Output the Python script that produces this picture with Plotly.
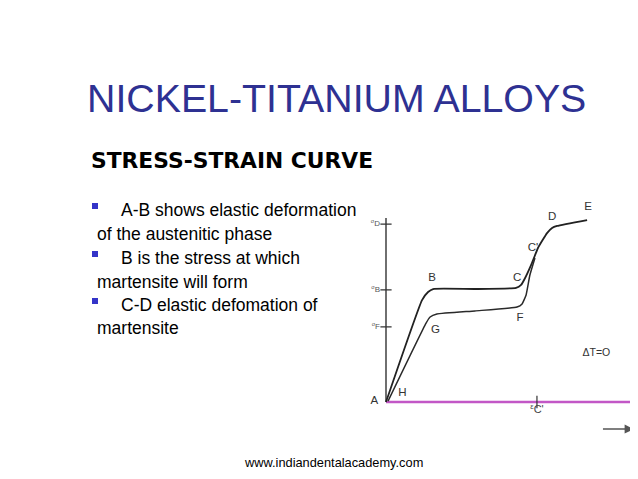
import plotly.graph_objects as go

# the page puts the figure 8px in from the top-left corner
OFF = 8
W, H = 638 - OFF, 479 - OFF

# slide text
title = "NICKEL-TITANIUM ALLOYS"
subtitle = "STRESS-STRAIN CURVE"
bullet_lines = [
    ("A-B shows elastic deformation", True),
    ("of the austenitic phase", False),
    ("B is the stress at which", True),
    ("martensite will form", False),
    ("C-D elastic defomation of", True),
    ("martensite", False),
]
footer = "www.indiandentalacademy.com"

# stress-strain curve (strain, stress in arbitrary units 0-100)
loading_strain = [0, 14.3, 16.7, 18.7, 35.3, 51.6, 53.6, 55.2, 57.9, 60.3, 63.9, 65.9, 67.9, 79.8]
loading_stress = [0, 55.4, 59.8, 61.4, 61.4, 62.0, 63.6, 67.4, 75.5, 83.7, 91.8, 94.6, 95.7, 98.9]
unloading_strain = [59.1, 57.1, 55.6, 54.0, 52.0, 35.3, 20.2, 17.5, 15.9, 0.8]
unloading_stress = [78.3, 69.0, 58.2, 53.3, 51.6, 49.5, 47.8, 46.2, 42.9, 0.5]

point_names = ["A", "H", "B", "C", "C'", "D", "E", "G", "F"]
point_x = [-4.6, 6.5, 18.3, 52.0, 58.3, 65.9, 80.2, 19.6, 53.2]
point_y = [0.5, 4.9, 67.4, 67.4, 83.7, 100.5, 106.0, 39.1, 45.7]

ytick_vals = [96.7, 60.9, 40.8]
ytick_text = ["<sup>σ</sup>D", "<sup>σ</sup>B", "<sup>σ</sup>F"]
xtick_vals = [59.9]
xtick_text = ["<sup>ε</sup>C'"]

axis_top = 100
axis_right = 100


def px(x):
    return (x - OFF) / W


def py(y):
    return 1 - (y - OFF) / H


fig = go.Figure()

# axes drawn as lines
fig.add_trace(go.Scatter(x=[0, axis_right], y=[0, 0], mode="lines",
                         line=dict(color="#c257c6", width=2.6), hoverinfo="skip"))
fig.add_trace(go.Scatter(x=[0, 0], y=[0, axis_top], mode="lines",
                         line=dict(color="#222", width=1.3), hoverinfo="skip"))

fig.add_trace(go.Scatter(x=loading_strain, y=loading_stress, mode="lines",
                         line=dict(color="#222", width=1.8, shape="spline", smoothing=0.4),
                         hoverinfo="skip"))
fig.add_trace(go.Scatter(x=unloading_strain, y=unloading_stress, mode="lines",
                         line=dict(color="#2a2a2a", width=1.5, shape="spline", smoothing=0.4),
                         hoverinfo="skip"))

# cross ticks on the axes
fig.add_trace(go.Scatter(x=[0] * len(ytick_vals), y=ytick_vals, mode="markers+text",
                         text=ytick_text, textposition="middle left",
                         textfont=dict(family="Liberation Sans", size=8, color="#555"),
                         marker=dict(symbol="line-ew", size=8, line=dict(color="#333", width=1.2)),
                         hoverinfo="skip"))
fig.add_trace(go.Scatter(x=xtick_vals, y=[0] * len(xtick_vals), mode="markers",
                         marker=dict(symbol="line-ns", size=9, line=dict(color="#333", width=1.2)),
                         hoverinfo="skip"))
fig.add_trace(go.Scatter(x=xtick_vals, y=[-4.6] * len(xtick_vals), mode="text",
                         text=xtick_text,
                         textfont=dict(family="Liberation Sans", size=11, color="#444"),
                         hoverinfo="skip"))

# point labels
fig.add_trace(go.Scatter(x=point_x, y=point_y, mode="text", text=point_names,
                         textfont=dict(family="Liberation Sans", size=11.5, color="#333"),
                         hoverinfo="skip"))
fig.add_trace(go.Scatter(x=[83.5], y=[26.6], mode="text", text=["ΔT=O"],
                         textfont=dict(family="Liberation Sans", size=10.5, color="#333"),
                         hoverinfo="skip"))

# axis ranges chosen so 1 strain unit = 2.52 px and 1 stress unit = 1.84 px
x_lo, x_hi = -10, 100
y_lo, y_hi = -22, 112
fig.update_layout(
    width=W, height=H,
    margin=dict(l=0, r=0, t=0, b=0),
    paper_bgcolor="white", plot_bgcolor="white",
    showlegend=False,
    xaxis=dict(domain=[px(386 + x_lo * 2.52), px(638)], range=[x_lo, x_hi], visible=False,
               fixedrange=True),
    yaxis=dict(domain=[py(402 - y_lo * 1.84), py(402 - y_hi * 1.84)], range=[y_lo, y_hi],
               visible=False, fixedrange=True),
)

# strain direction arrow
fig.add_annotation(x=98.3, y=-14.7, ax=85.5, ay=-14.7, xref="x", yref="y", axref="x", ayref="y",
                   text="", showarrow=True, arrowhead=2, arrowsize=1.3, arrowwidth=1.4,
                   arrowcolor="#555")

# title and text
fig.add_annotation(x=px(85), y=py(98), xref="paper", yref="paper", xanchor="left", yanchor="middle",
                   text=title, showarrow=False,
                   font=dict(family="Liberation Sans", size=39.3, color="#2e3192"))
fig.add_annotation(x=px(89), y=py(161), xref="paper", yref="paper", xanchor="left", yanchor="middle",
                   text=subtitle, showarrow=False,
                   font=dict(family="DejaVu Sans", size=21.8, color="black", weight="bold"))

line_y = [210, 234, 258, 282, 305, 328]
for (txt, is_bullet), yy in zip(bullet_lines, line_y):
    x0 = 119 if is_bullet else 95
    fig.add_annotation(x=px(x0), y=py(yy), xref="paper", yref="paper", xanchor="left",
                       yanchor="middle", text=txt, showarrow=False,
                       font=dict(family="Liberation Sans", size=17.5, color="black"))
    if is_bullet:
        fig.add_shape(type="rect", xref="paper", yref="paper",
                      x0=px(92), x1=px(98), y0=py(yy - 7), y1=py(yy - 1),
                      fillcolor="#3434c8", line=dict(width=0))

fig.add_annotation(x=px(333), y=py(462), xref="paper", yref="paper", xanchor="center",
                   yanchor="middle", text=footer, showarrow=False,
                   font=dict(family="Liberation Sans", size=12.8, color="black"))

fig.write_html("out.html")
